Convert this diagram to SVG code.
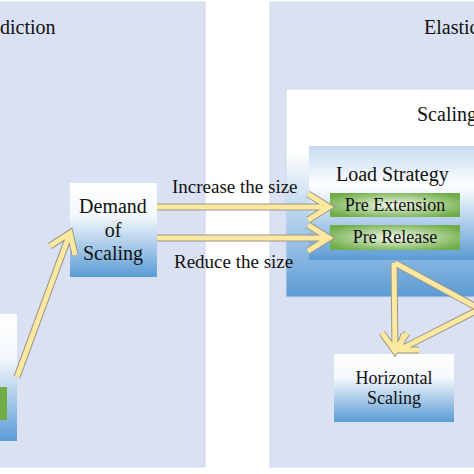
<svg xmlns="http://www.w3.org/2000/svg" width="474" height="474" viewBox="0 0 474 474">
<defs>
<linearGradient id="gBlue" x1="0" y1="0" x2="0" y2="1">
<stop offset="0" stop-color="#ffffff"/>
<stop offset="0.35" stop-color="#f4f8fc"/>
<stop offset="1" stop-color="#5b9bd5"/>
</linearGradient>
<linearGradient id="gBig" x1="0" y1="0" x2="0" y2="1">
<stop offset="0" stop-color="#ffffff"/>
<stop offset="0.3" stop-color="#ffffff"/>
<stop offset="1" stop-color="#5b9bd5"/>
</linearGradient>
<linearGradient id="gLoad" x1="0" y1="0" x2="0" y2="1">
<stop offset="0" stop-color="#c5daf0"/>
<stop offset="0.35" stop-color="#ffffff"/>
<stop offset="1" stop-color="#5b9bd5"/>
</linearGradient>
<radialGradient id="gGreen" cx="0.5" cy="0.5" r="0.6">
<stop offset="0" stop-color="#f2f8ec"/>
<stop offset="1" stop-color="#70ad47"/>
</radialGradient>
</defs>
<style>
.panel{fill:#dae1f2;stroke:#cfd7ea;stroke-width:1}
.t{font-family:"Liberation Serif","Times New Roman",serif;fill:#111}
.ol{fill:none;stroke:#9b978a;stroke-width:7;stroke-linejoin:miter;stroke-linecap:butt}
.ar{fill:none;stroke:#fde8a0;stroke-width:5;stroke-linejoin:miter;stroke-linecap:butt}
</style>
<rect width="474" height="474" fill="#ffffff"/>
<g id="panel-prediction">
<rect class="panel" x="-2" y="2" width="207" height="465"/>
<text class="t" x="0" y="34" font-size="20">diction</text>
</g>
<g id="panel-elastic">
<rect class="panel" x="270" y="2" width="210" height="465"/>
<text class="t" x="424" y="34" font-size="20">Elastic</text>
</g>
<g id="scaling-box">
<rect x="286" y="89" width="194" height="208" fill="url(#gBig)" stroke="#d0d8e8" stroke-width="1"/>
<text class="t" x="417" y="121" font-size="20">Scaling</text>
</g>
<g id="load-strategy">
<rect x="309" y="146" width="171" height="114" fill="url(#gLoad)"/>
<text class="t" x="336" y="181" font-size="20">Load Strategy</text>
</g>
<g id="pre-extension">
<rect x="330" y="193" width="130" height="24" fill="url(#gGreen)"/>
<text class="t" x="395" y="211" font-size="18" text-anchor="middle">Pre Extension</text>
</g>
<g id="pre-release">
<rect x="330" y="225" width="130" height="25" fill="url(#gGreen)"/>
<text class="t" x="395" y="243" font-size="18" text-anchor="middle">Pre Release</text>
</g>
<g id="demand-of-scaling">
<rect x="70" y="183" width="87" height="94" fill="url(#gBlue)"/>
<text class="t" x="113" y="213" font-size="20" text-anchor="middle">Demand</text>
<text class="t" x="113" y="237" font-size="20" text-anchor="middle">of</text>
<text class="t" x="113" y="260" font-size="20" text-anchor="middle">Scaling</text>
</g>
<g id="left-node">
<rect x="-2" y="314" width="19" height="127" fill="url(#gBlue)"/>
<rect x="-2" y="387" width="9" height="33" fill="#70ad47"/>
</g>
<g id="horizontal-scaling">
<rect x="334" y="354" width="120" height="68" fill="url(#gBlue)"/>
<text class="t" x="394" y="384" font-size="18" text-anchor="middle">Horizontal</text>
<text class="t" x="394" y="404" font-size="18" text-anchor="middle">Scaling</text>
</g>
<g id="connectors">
<g class="ol">
<path d="M157,207 L329,207 M308,194 L329,207 L308,220"/>
<path d="M157,238 L329,238 M308,225 L329,238 L308,251"/>
<path d="M17,377 L70,233 M50,246 L70,233 L75,255"/>
<path d="M394,263 L395,351 M382,333 L395,351 L407,333"/>
<path d="M395,263 L478,308"/>
<path d="M478,310 L399,350 M404,334 L399,350 L419,350"/>
</g>
<g class="ar">
<path d="M157,207 L329,207 M308,194 L329,207 L308,220"/>
<path d="M157,238 L329,238 M308,225 L329,238 L308,251"/>
<path d="M17,377 L70,233 M50,246 L70,233 L75,255"/>
<path d="M394,263 L395,351 M382,333 L395,351 L407,333"/>
<path d="M395,263 L478,308"/>
<path d="M478,310 L399,350 M404,334 L399,350 L419,350"/>
</g>
</g>
<g id="labels">
<text class="t" x="172" y="193" font-size="19">Increase the size</text>
<text class="t" x="174" y="268" font-size="19">Reduce the size</text>
</g>
</svg>
